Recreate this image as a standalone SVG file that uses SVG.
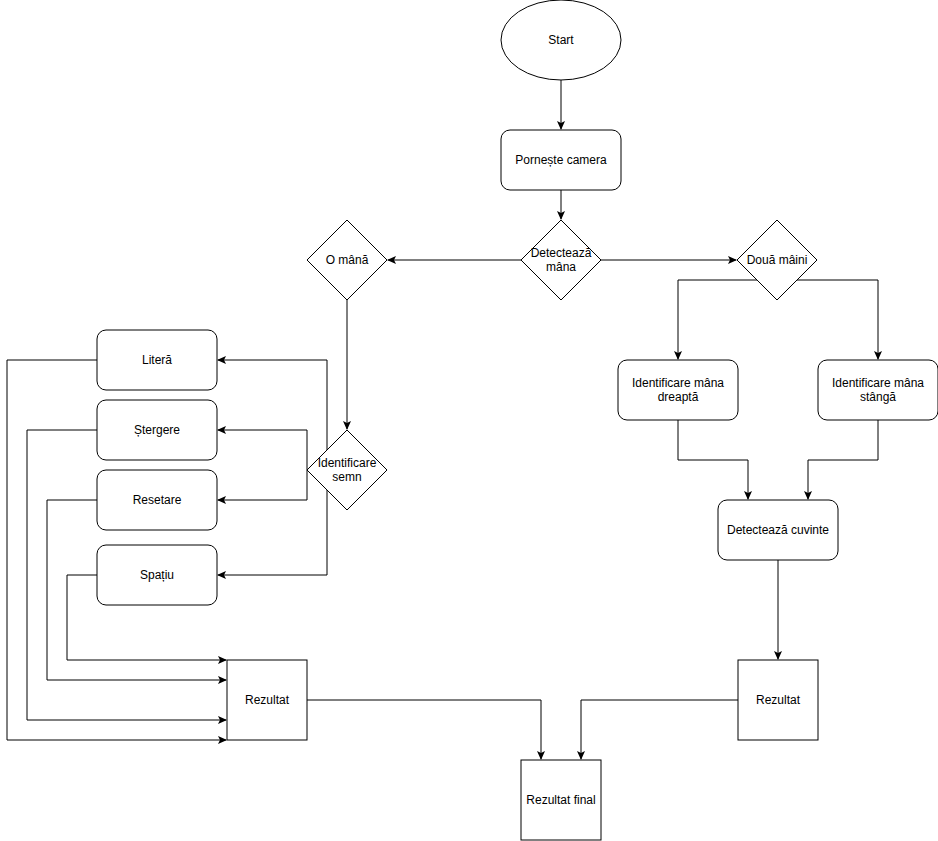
<svg xmlns="http://www.w3.org/2000/svg" width="938" height="841" viewBox="0 0 938 841">
<style>
.n{fill:#fff;stroke:#000;stroke-width:1}
.t{font-family:"Liberation Sans",Arial,sans-serif;font-size:12px;fill:#000;text-anchor:middle}
.c{fill:none;stroke:#000;stroke-width:1;marker-end:url(#a)}
</style>
<defs><marker id="a" markerWidth="10" markerHeight="8" refX="8" refY="4" orient="auto" markerUnits="userSpaceOnUse"><path d="M0,0L9,4L0,8L2,4Z" fill="#000"/></marker></defs>
<rect width="938" height="841" fill="#fff"/>
<g id="connectors">
<path class="c" d="M561,80V129"/>
<path class="c" d="M561,190V219"/>
<path class="c" d="M521,260H388"/>
<path class="c" d="M601,260H736"/>
<path class="c" d="M347,300V429"/>
<path class="c" d="M327,450V360H218"/>
<path class="c" d="M307,470V430H218"/>
<path class="c" d="M307,470V500H218"/>
<path class="c" d="M327,490V575H218"/>
<path class="c" d="M97,360H7V740H226"/>
<path class="c" d="M97,430H27V720H226"/>
<path class="c" d="M97,500H47V680H226"/>
<path class="c" d="M97,575H67V660H226"/>
<path class="c" d="M307,700H541V759"/>
<path class="c" d="M738,700H581V759"/>
<path class="c" d="M757,280H678V359"/>
<path class="c" d="M797,280H878V359"/>
<path class="c" d="M678,420V460H748V499"/>
<path class="c" d="M878,420V460H808V499"/>
<path class="c" d="M778,560V659"/>
</g>
<g id="start"><ellipse class="n" cx="561" cy="40" rx="60" ry="40"/><text class="t" x="561" y="44">Start</text></g>
<g id="camera"><rect class="n" x="501" y="130" width="120" height="60" rx="9"/><text class="t" x="561" y="164">Pornește camera</text></g>
<g id="detect"><path class="n" d="M561,220L601,260L561,300L521,260Z"/><text class="t" x="561" y="257">Detectează</text><text class="t" x="561" y="271">mâna</text></g>
<g id="omana"><path class="n" d="M347,220L387,260L347,300L307,260Z"/><text class="t" x="347" y="264">O mână</text></g>
<g id="doua"><path class="n" d="M777,220L817,260L777,300L737,260Z"/><text class="t" x="777" y="264">Două mâini</text></g>
<g id="semn"><path class="n" d="M347,430L387,470L347,510L307,470Z"/><text class="t" x="347" y="467">Identificare</text><text class="t" x="347" y="481">semn</text></g>
<g id="litera"><rect class="n" x="97" y="330" width="120" height="60" rx="9"/><text class="t" x="157" y="364">Literă</text></g>
<g id="stergere"><rect class="n" x="97" y="400" width="120" height="60" rx="9"/><text class="t" x="157" y="434">Ștergere</text></g>
<g id="resetare"><rect class="n" x="97" y="470" width="120" height="60" rx="9"/><text class="t" x="157" y="504">Resetare</text></g>
<g id="spatiu"><rect class="n" x="97" y="545" width="120" height="60" rx="9"/><text class="t" x="157" y="579">Spațiu</text></g>
<g id="dreapta"><rect class="n" x="618" y="360" width="120" height="60" rx="9"/><text class="t" x="678" y="387">Identificare mâna</text><text class="t" x="678" y="401">dreaptă</text></g>
<g id="stanga"><rect class="n" x="818" y="360" width="120" height="60" rx="9"/><text class="t" x="878" y="387">Identificare mâna</text><text class="t" x="878" y="401">stângă</text></g>
<g id="cuvinte"><rect class="n" x="718" y="500" width="120" height="60" rx="9"/><text class="t" x="778" y="534">Detectează cuvinte</text></g>
<g id="rezL"><rect class="n" x="227" y="660" width="80" height="80"/><text class="t" x="267" y="704">Rezultat</text></g>
<g id="rezR"><rect class="n" x="738" y="660" width="80" height="80"/><text class="t" x="778" y="704">Rezultat</text></g>
<g id="final"><rect class="n" x="521" y="760" width="80" height="80"/><text class="t" x="561" y="804">Rezultat final</text></g>
</svg>
